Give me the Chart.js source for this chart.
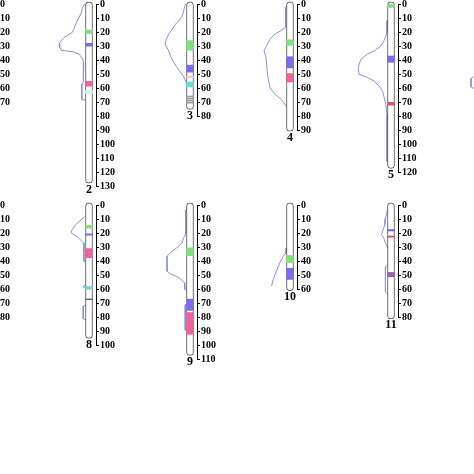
<!DOCTYPE html>
<html>
<head>
<meta charset="utf-8">
<script src="https://cdn.jsdelivr.net/npm/chart.js@4/dist/chart.umd.min.js"></script>
<style>
  html, body { margin: 0; padding: 0; background: #fff; }
  #wrap { position: relative; width: 474px; height: 474px; overflow: hidden; background: #fff; }
  #wrap canvas { position: absolute; }
</style>
</head>
<body>
<div id="wrap"></div>
<script>
// chromosome names, drawn length (cM) and axis length (cM)
var chromNames = ['1', '2', '3', '4', '5', '6', '7', '8', '9', '10', '11'];
var chromLength = [68, 127.5, 75, 90.5, 117, 100, 78, 95, 107, 61, 81];
var axisMax = [70, 130, 80, 90, 120, 100, 80, 100, 110, 60, 80];

// marker / QTL bands: [start cM, end cM, trait]
var bands2 = [[18.5, 21, 'g'], [28, 30, 'p'], [55, 58.5, 'r'], [61.5, 63.5, 'q']];
var bands3 = [[26, 33, 'g'], [43.5, 48.5, 'p'], [51.5, 52.5, 'l'], [55.5, 59, 'c'],
              [65.5, 66.2, 's'], [67, 67.7, 's'], [68.5, 69.2, 's'], [70, 70.6, 's']];
var bands4 = [[25.5, 29.5, 'g'], [37.5, 45.5, 'p'], [49.5, 55.5, 'r']];
var bands5 = [[0, 2.5, 'g'], [37, 41.5, 'p'], [70, 72, 'd']];
var bands8 = [[14.5, 16.5, 'g'], [20.5, 21.5, 'p'], [31, 37.5, 'r'], [58, 60, 'c'], [66.8, 67.4, 'k']];
var bands9 = [[30.5, 36, 'g'], [67, 75, 'p'], [76.5, 92, 'r']];
var bands10 = [[36, 41, 'g'], [45, 53, 'p']];
var bands11 = [[17.5, 18.5, 'b'], [22, 23, 'd'], [48, 51, 'm']];

// LOD profiles: position (cM) and LOD
var pos2 = [0, 2.5, 7, 10.7, 14.3, 18, 20, 22, 24, 26, 28.6, 31, 33, 33.5, 34, 35.7, 39, 42, 55, 57, 68, 68.5];
var lod2 = [1.1, 1.6, 2.05, 2.7, 3.3, 3.8, 4.1, 5.2, 6.3, 6.9, 7.5, 7.3, 6.9, 5.6, 4.0, 2.5, 1.6, 1.3, 1.4, 1.8, 1.8, 0.5];
var pos3 = [0, 3, 8.4, 12, 14.3, 17.9, 21.4, 25, 28.6, 33.4, 37, 41.7, 45.3, 48.4, 52, 56, 57];
var lod3 = [1.1, 1.4, 1.95, 2.8, 3.6, 4.45, 5.3, 5.9, 6.25, 5.3, 4.9, 4.05, 3.2, 2.4, 1.55, 0.9, 0.5];
var pos4 = [0, 2.5, 16.7, 18, 21.4, 25, 27.4, 31, 33.4, 37, 40.5, 47, 52.4, 59.6, 64.3, 68, 72.6, 74];
var lod4 = [0.5, 1.1, 1.1, 1.7, 3.75, 5.0, 5.4, 6.1, 6.5, 6.1, 5.9, 5.75, 5.5, 5.0, 3.75, 2.1, 1.0, 0.5];
var pos5 = [11, 12, 21, 26, 30, 33.4, 35.7, 39.3, 45.3, 50, 52.4, 54.8, 58.4, 62, 66.7, 71.4, 78.6, 112, 113];
var lod5 = [0.5, 1.05, 1.05, 1.7, 2.55, 4.2, 5.9, 7.55, 8.2, 8.0, 5.9, 4.2, 3.0, 2.1, 1.7, 1.3, 1.0, 1.0, 0.5];
var pos6 = [45, 52, 53, 59, 60, 68];
var lod6 = [2, 4.3, 5, 5, 4.3, 2];
var pos8 = [7, 8, 9, 11.4, 15, 17.4, 19.8, 21.7, 24, 27, 29, 40, 41, 56, 58, 60, 71, 72, 81, 82];
var lod8 = [0.5, 1.0, 1.3, 2.4, 3.6, 4.2, 4.45, 3.4, 2.4, 1.4, 1.25, 1.25, 0.5, 0.5, 1.55, 0.5, 0.5, 1.45, 1.45, 0.5];
var pos9 = [2, 3.5, 21, 23, 27, 30.6, 34, 36.5, 47, 49, 51, 53.7, 55.3, 60, 61, 70, 71, 89, 90];
var lod9 = [0.5, 1.1, 1.1, 1.55, 1.95, 3.4, 4.9, 5.75, 5.75, 4.9, 3.2, 1.95, 1.4, 1.3, 0.5, 0.5, 1.2, 1.2, 0.5];
var pos10 = [30.6, 34.1, 36.5, 41.2, 47.1, 53, 57.7];
var lod10 = [0.9, 1.0, 1.7, 2.55, 3.4, 4.2, 4.6];
var pos11 = [3, 4, 6, 10, 14, 17, 21, 24, 27, 30, 31, 42, 44, 50, 56, 62, 64];
var lod11 = [0.5, 1.0, 1.1, 1.4, 1.5, 1.9, 2.4, 1.75, 1.4, 0.9, 0.5, 0.5, 1.4, 1.5, 1.25, 1.4, 0.5];

var bandColors = {
  g: '#80e080', p: '#7d6ce8', r: '#f0629c', c: '#70d8e2', q: '#c8f0f4',
  s: '#9c9c9c', l: '#f4c4d4', d: '#e0506e', b: '#6a6ae2', m: '#9a60b4', k: '#666666'
};

var PX_PER_CM = 1.405;

// chromosome number under each bar
var chromLabel = {
  id: 'chromLabel',
  afterDatasetsDraw: function(chart, args, opts) {
    if (!opts.text) return;
    var ctx = chart.ctx;
    ctx.save();
    ctx.font = 'bold 12px "Liberation Serif"';
    ctx.fillStyle = '#000';
    ctx.textAlign = 'center';
    ctx.textBaseline = 'middle';
    ctx.fillText(opts.text, chart.scales.x.getPixelForValue(0), chart.scales.y.getPixelForValue(opts.end) + 6.5);
    ctx.restore();
  }
};

function makePanel(idx, col, row, bands, pos, lod) {
  var cx = 89 + 100.5 * (col - 1);
  var zeroY = row === 0 ? 3.5 : 204.5;
  var padTop = 8, padBottom = 22;
  var areaH = axisMax[idx] * PX_PER_CM;
  var canvas = document.createElement('canvas');
  canvas.width = 71;
  canvas.height = Math.ceil(areaH + padTop + padBottom);
  canvas.style.left = Math.round(cx - 36) + 'px';
  canvas.style.top = (zeroY - padTop) + 'px';
  document.getElementById('wrap').appendChild(canvas);

  var datasets = [];
  if (pos) {
    datasets.push({
      type: 'line',
      data: pos.map(function(p, i) { return {x: lod[i], y: p}; }),
      borderColor: '#8692da',
      borderWidth: 1,
      pointRadius: 0,
      tension: 0,
      fill: false,
      clip: false,
      order: 3
    });
  }
  datasets.push({
    type: 'bar',
    data: [{x: 0, y: [-1.5, chromLength[idx]]}],
    backgroundColor: '#ffffff',
    borderColor: '#555555',
    borderWidth: 1,
    borderRadius: 4,
    borderSkipped: false,
    barThickness: 7,
    grouped: false,
    clip: false,
    order: 2
  });
  if (bands) {
    datasets.push({
      type: 'bar',
      data: bands.map(function(b) { return {x: 0, y: [b[0], b[1]]}; }),
      backgroundColor: bands.map(function(b) { return bandColors[b[2]]; }),
      borderWidth: 0,
      borderRadius: 0,
      barThickness: 7,
      grouped: false,
      clip: false,
      order: 1
    });
  }

  new Chart(canvas, {
    type: 'bar',
    data: { datasets: datasets },
    plugins: [chromLabel],
    options: {
      responsive: false,
      animation: false,
      events: [],
      layout: { padding: { top: padTop, bottom: canvas.height - padTop - areaH, left: 0, right: 0 } },
      plugins: {
        legend: { display: false },
        tooltip: { enabled: false },
        chromLabel: { text: chromNames[idx], end: chromLength[idx] }
      },
      scales: {
        x: { type: 'linear', display: false, offset: false, reverse: true, min: -1.75, max: 9 },
        y: {
          type: 'linear',
          position: 'right',
          reverse: true,
          min: 0,
          max: axisMax[idx],
          afterFit: function(s) { s.width = 28; },
          ticks: {
            stepSize: 10,
            autoSkip: false,
            padding: 1,
            color: '#000',
            font: { family: 'Liberation Serif', size: 10, weight: 'bold' }
          },
          grid: { drawOnChartArea: false, drawTicks: true, tickLength: 3, color: '#000' },
          border: { display: true, color: '#000', width: 1 }
        }
      }
    }
  });
}

makePanel(0, 0, 0, null, null, null);
makePanel(1, 1, 0, bands2, pos2, lod2);
makePanel(2, 2, 0, bands3, pos3, lod3);
makePanel(3, 3, 0, bands4, pos4, lod4);
makePanel(4, 4, 0, bands5, pos5, lod5);
makePanel(5, 5, 0, null, pos6, lod6);
makePanel(6, 0, 1, null, null, null);
makePanel(7, 1, 1, bands8, pos8, lod8);
makePanel(8, 2, 1, bands9, pos9, lod9);
makePanel(9, 3, 1, bands10, pos10, lod10);
makePanel(10, 4, 1, bands11, pos11, lod11);
</script>
</body>
</html>
